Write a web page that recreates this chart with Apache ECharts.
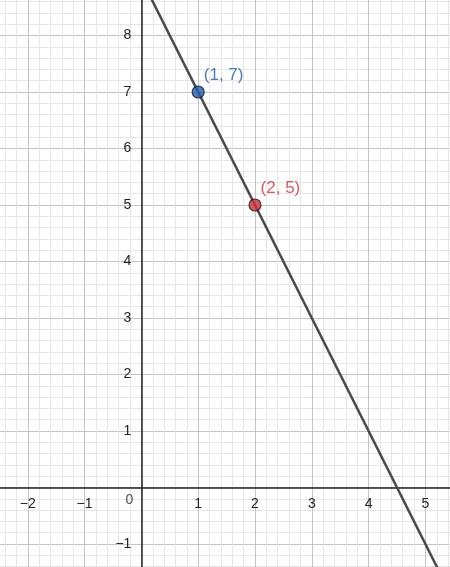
<!DOCTYPE html>
<html>
<head>
<meta charset="utf-8">
<script src="https://cdn.jsdelivr.net/npm/echarts@6/dist/echarts.min.js"></script>
<style>
  html, body { margin: 0; padding: 0; background: #fff; }
  #chart { width: 450px; height: 567px; }
</style>
</head>
<body>
<div id="chart"></div>
<script>
// 直线 y = -2x + 9 上的两个端点（超出可视区域，由网格裁剪）
const lineX = [0, 6];
const lineY = [9, -3];
// 标注的两个点
const pointX = [1, 2];
const pointY = [7, 5];
const pointNames = ['(1, 7)', '(2, 5)'];
const pointColors = ['#1c5fb0', '#d0303a'];
// 坐标轴范围（可视窗口外各多一格）
const xRange = [-3, 6];
const yRange = [-2, 9];

// 网格布局：每格像素
const pxX = 56.8, pxY = 56.5;
const gridLeft = -29, gridTop = -21;
const W = 450, H = 567;
const gridRight = W - (gridLeft + (xRange[1] - xRange[0]) * pxX);
const gridBottom = H - (gridTop + (yRange[1] - yRange[0]) * pxY);

const chart = echarts.init(document.getElementById('chart'));

// 负号用 U+2212，0 不在轴上显示
function tickLabel(v) {
  if (v === 0) return '';
  return v < 0 ? '\u2212' + Math.abs(v) : String(v);
}

const labelFont = {
  color: '#222',
  fontSize: 14,
  fontFamily: 'Arial, "Liberation Sans", sans-serif'
};

const axisCommon = {
  type: 'value',
  interval: 1,
  axisLine: { onZero: false, lineStyle: { color: '#222', width: 1.5 } },
  axisTick: { show: false },
  minorTick: { show: false, splitNumber: 5 },
  splitLine: { show: true, lineStyle: { color: '#c4c4c4', width: 1 } },
  minorSplitLine: { show: true, lineStyle: { color: '#e6e6e6', width: 1 } },
  axisLabel: Object.assign({ formatter: tickLabel, margin: 10 }, labelFont)
};

chart.setOption({
  animation: false,
  grid: {
    left: gridLeft, right: gridRight, top: gridTop, bottom: gridBottom,
    containLabel: false,
    outerBoundsMode: 'none'
  },
  xAxis: Object.assign({}, axisCommon, {
    min: xRange[0], max: xRange[1],
    position: 'bottom',
    // 把轴线和刻度标签挪到 y = 0
    offset: -(0 - yRange[0]) * pxY
  }),
  yAxis: Object.assign({}, axisCommon, {
    min: yRange[0], max: yRange[1],
    position: 'left',
    offset: -(0 - xRange[0]) * pxX
  }),
  series: [
    {
      type: 'line',
      data: lineX.map((x, i) => [x, lineY[i]]),
      symbol: 'none',
      clip: true,
      lineStyle: { color: '#4a4a4a', width: 2.5 },
      z: 3
    },
    {
      // 原点处的 "0"
      type: 'scatter',
      data: [[0, 0]],
      symbolSize: 0,
      silent: true,
      label: Object.assign({
        show: true,
        formatter: '0',
        position: 'inside',
        offset: [-12, 13]
      }, labelFont),
      z: 2
    },
    {
      type: 'scatter',
      data: pointX.map((x, i) => ({
        value: [x, pointY[i]],
        itemStyle: { color: pointColors[i] },
        label: { color: pointColors[i], formatter: pointNames[i] }
      })),
      symbol: 'circle',
      symbolSize: 12,
      itemStyle: { borderColor: '#1a1a1a', borderWidth: 1.2 },
      label: {
        show: true,
        position: 'right',
        offset: [-6, -17],
        fontSize: 17,
        fontFamily: 'Arial, "Liberation Sans", sans-serif'
      },
      z: 5
    }
  ]
});
</script>
</body>
</html>
